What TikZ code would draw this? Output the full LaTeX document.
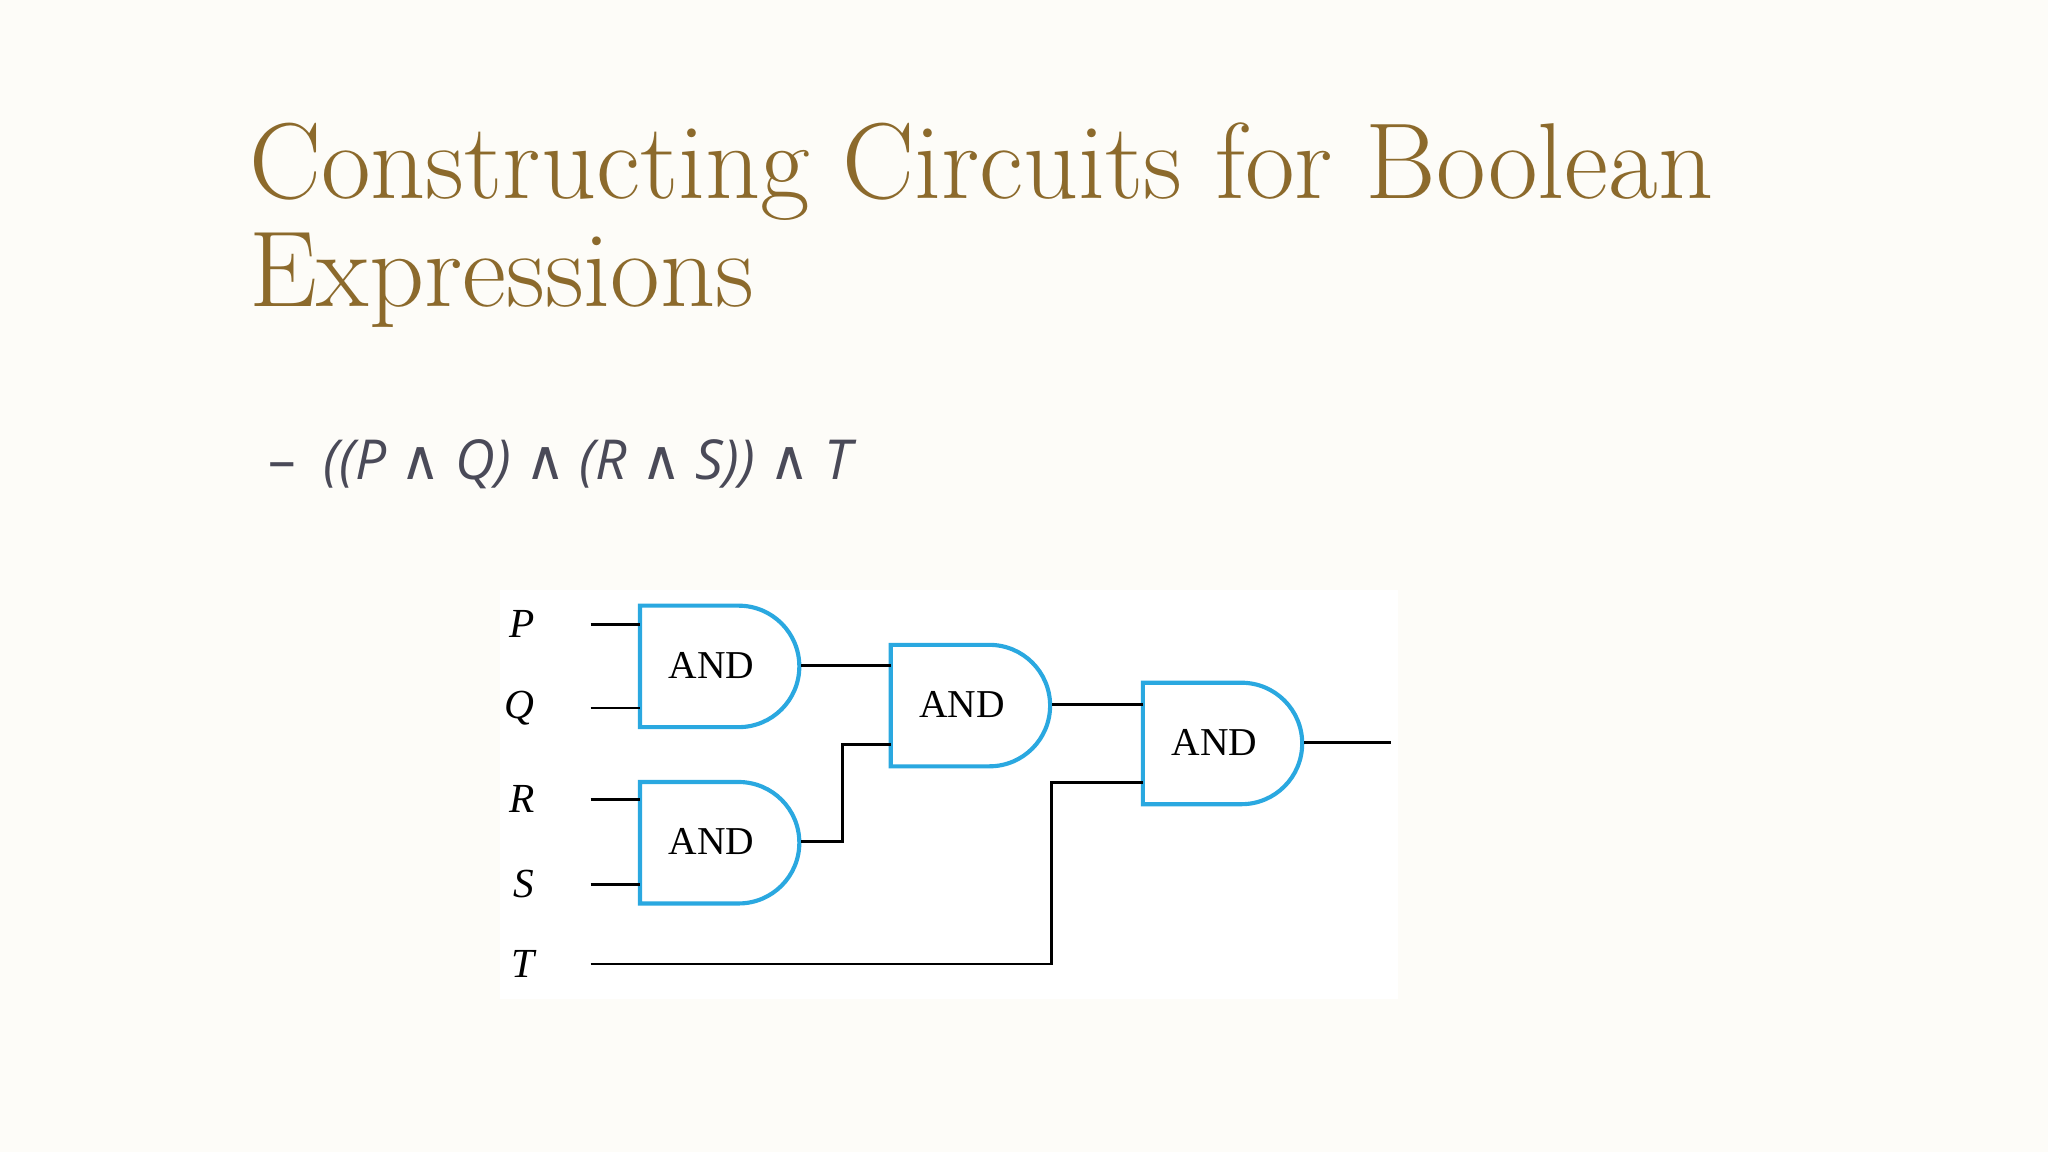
\documentclass[tikz,border=0pt]{standalone}
\usepackage{fontspec}
\newfontfamily\bulfont{Open Sans}
\newfontfamily\symfont{DejaVu Sans}
\newfontfamily\circfont{Liberation Serif}
\definecolor{bg}{HTML}{FDFCF8}
\definecolor{titlec}{HTML}{8C6A2C}
\definecolor{bulc}{HTML}{4A4A58}
\definecolor{gatec}{HTML}{2AA8E0}
\newcommand\andsym{{\symfont\upshape ∧}}
\begin{document}
\begin{tikzpicture}[x=0.01cm,y=0.01cm,
  gatebox/.style={rectangle,minimum width=1.22cm,minimum height=0.93cm,inner sep=0,anchor=west,font=\circfont\fontsize{8.6}{10}\selectfont},
  gateline/.style={draw=gatec,line width=0.9pt},
  wire/.style={line width=0.6pt,black},
  lbl/.style={inner sep=0,font=\circfont\itshape\fontsize{9}{11}\selectfont}]
\fill[bg] (0,0) rectangle (1568,882);
\useasboundingbox (0,0) rectangle (1568,882);
\fill[white] (383,117) rectangle (1070,430);
\node[anchor=base west,inner sep=0,text=titlec,font=\fontsize{23.5}{28}\selectfont] (t1) at (190,730) {Constructing Circuits for Boolean};
\node[anchor=base west,inner sep=0,text=titlec,font=\fontsize{23.5}{28}\selectfont] (t2) at (190,647) {Expressions};
\node[anchor=base west,inner sep=0,text=bulc,font=\bulfont\fontsize{12}{14}\selectfont] (b) at (205,515) {–\hspace{0.5em}\itshape ((P \andsym{} Q) \andsym{} (R \andsym{} S)) \andsym{} T};
% gates
\newcommand\mygate[3]{%
  \node[gatebox] (#1) at (#2,#3) {\hspace*{-4pt}AND};
  \draw[gateline] (#1.south west) -- ++(75.5,0) arc(-90:90:46.5) -- ++(-75.5,0) -- cycle;}
\mygate{g1}{490}{372.5}
\mygate{g2}{490}{237.5}
\mygate{g3}{682}{342.5}
\mygate{g4}{875}{313.5}
% labels
\node[lbl,anchor=east] (P) at (410,404) {P};
\node[lbl,anchor=east] (Q) at (410,340) {Q};
\node[lbl,anchor=east] (R) at (410,270) {R};
\node[lbl,anchor=east] (S) at (410,205) {S};
\node[lbl,anchor=east] (T) at (410,144) {T};
\coordinate (out) at (1065,313.5);
\draw[wire] ([xshift=12]P.east) -- (g1.west |- P.east);
\draw[wire] ([xshift=12]Q.east) -- (g1.west |- Q.east);
\draw[wire] ([xshift=12]R.east) -- (g2.west |- R.east);
\draw[wire] ([xshift=12]S.east) -- (g2.west |- S.east);
\draw[wire] (g1.east) -- (g3.west |- g1.east);
\draw[wire] (g2.east) -- (645,237.5) -- (645,312) -- (g3.west |- 0,312);
\draw[wire] (g3.east) -- (g4.west |- g3.east);
\draw[wire] ([xshift=12]T.east) -- (805,144) -- (805,283) -- (g4.west |- 0,283);
\draw[wire] (g4.east) -- (out);
\end{tikzpicture}
\end{document}
